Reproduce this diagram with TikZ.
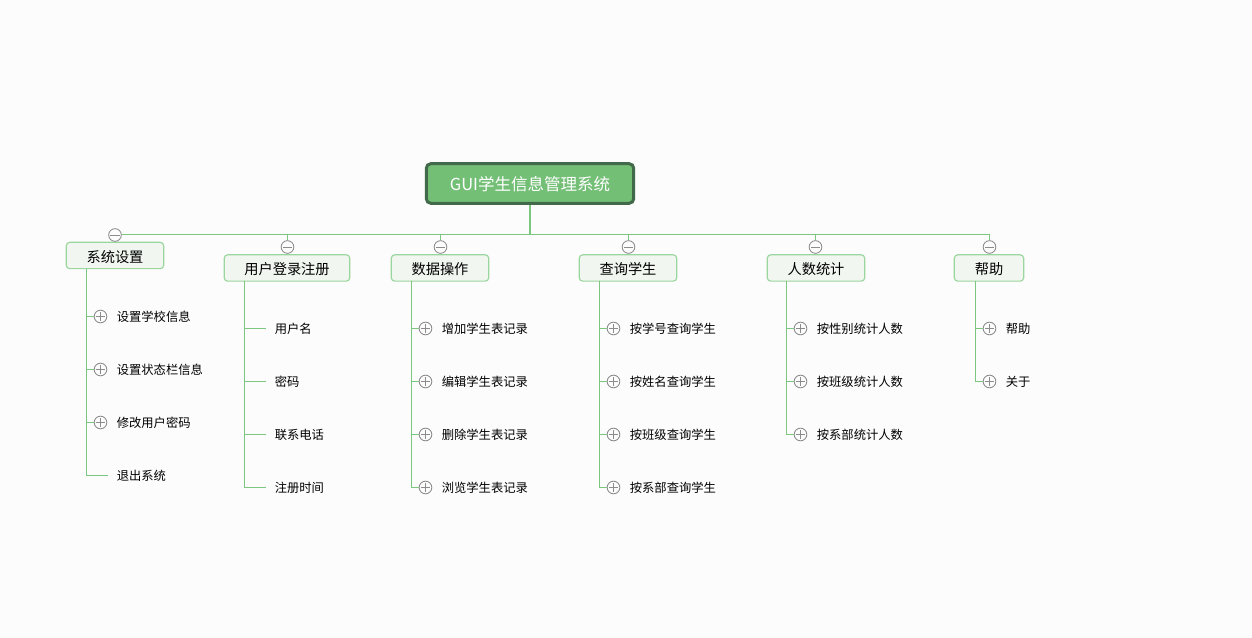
\documentclass[tikz,border=0pt]{standalone}
\usepackage{fontspec}
\setmainfont{Noto Sans CJK SC}
\definecolor{pagebg}{HTML}{FCFCFC}
\definecolor{linkgreen}{HTML}{7CC77F}
\definecolor{rootfill}{HTML}{73BF76}
\definecolor{rootedge}{HTML}{41694A}
\definecolor{branchfill}{HTML}{F1F7F0}
\definecolor{branchedge}{HTML}{9AD69D}
\definecolor{markgray}{HTML}{8C8C8C}
\tikzset{
  rootbox/.style={draw=rootedge, fill=rootfill, line width=1.7pt, rounded corners=2.5pt,
    text=white, minimum width=118pt, minimum height=22.5pt, inner sep=0pt, text height=8pt, text depth=0pt,
    font=\fontsize{9.4pt}{9.4pt}\selectfont},
  branchbox/.style={draw=branchedge, fill=branchfill, line width=0.65pt, rounded corners=2pt,
    minimum height=15pt, inner sep=0pt, text height=7.5pt, text depth=0pt, font=\fontsize{8.1pt}{8.1pt}\selectfont},
  leaftext/.style={anchor=west, inner sep=0pt, font=\fontsize{7pt}{7pt}\selectfont},
  marker/.style={circle, draw=markgray, fill=pagebg, line width=0.5pt, minimum size=7.2pt, inner sep=0pt},
  minusmark/.style={marker, path picture={
    \draw[markgray, line width=0.45pt] ([xshift=-2.6pt]path picture bounding box.center) -- ([xshift=2.6pt]path picture bounding box.center);}},
  plusmark/.style={marker, path picture={
    \draw[markgray, line width=0.45pt] ([xshift=-2.6pt]path picture bounding box.center) -- ([xshift=2.6pt]path picture bounding box.center);
    \draw[markgray, line width=0.45pt] ([yshift=-2.6pt]path picture bounding box.center) -- ([yshift=2.6pt]path picture bounding box.center);}},
  link/.style={draw=linkgreen, line width=0.6pt},
  stem/.style={draw=linkgreen, line width=0.75pt},
}
\begin{document}
\begin{tikzpicture}[x=0.02cm, y=-0.02cm]
  \fill[pagebg] (0, 0) rectangle (1252, 638);
  \useasboundingbox (0, 0) rectangle (1252, 638);

  \node[rootbox] (root) at (530, 183.5) {GUI学生信息管理系统};

  % branches
  \node[branchbox, minimum width=55.5pt] (sys) at (115, 255.5) {系统设置};
  \node[branchbox, minimum width=71.5pt] (usr) at (287, 268) {用户登录注册};
  \node[branchbox, minimum width=55.5pt] (dat) at (440, 268) {数据操作};
  \node[branchbox, minimum width=55.5pt] (qry) at (628, 268) {查询学生};
  \node[branchbox, minimum width=55.5pt] (cnt) at (816, 268) {人数统计};
  \node[branchbox, minimum width=39.5pt] (hlp) at (989, 268) {帮助};

  \node[minusmark] (msys) at (115, 235) {};
  \foreach \b/\x in {usr/287.5, dat/440.5, qry/628.5, cnt/815.5, hlp/989.5}
    \node[minusmark] (m\b) at (\x, 247) {};

  \coordinate (busend) at (989.5, 234.5);
  \draw[stem, line width=0.95pt] (root) -- (root |- busend);
  \draw[link] (msys.east |- busend) -- (busend);
  \foreach \b in {usr, dat, qry, cnt, hlp}
    \draw[link] (m\b) -- (m\b |- busend);

  % stems
  \coordinate (ssys) at (86.5, 269);
  \coordinate (susr) at (244.5, 281);
  \coordinate (sdat) at (411.5, 281);
  \coordinate (sqry) at (599.5, 281);
  \coordinate (scnt) at (786.5, 281);
  \coordinate (shlp) at (975.5, 281);

  % leaves with a marker
  \foreach \b/\n/\x/\y/\t in {
    sys/1/86.5/316.5/设置学校信息, sys/2/86.5/369.5/设置状态栏信息, sys/3/86.5/422.5/修改用户密码,
    dat/1/411.5/328.5/增加学生表记录, dat/2/411.5/381.5/编辑学生表记录,
    dat/3/411.5/434.5/删除学生表记录, dat/4/411.5/487.5/浏览学生表记录,
    qry/1/599.5/328.5/按学号查询学生, qry/2/599.5/381.5/按姓名查询学生,
    qry/3/599.5/434.5/按班级查询学生, qry/4/599.5/487.5/按系部查询学生,
    cnt/1/786.5/328.5/按性别统计人数, cnt/2/786.5/381.5/按班级统计人数,
    cnt/3/786.5/434.5/按系部统计人数,
    hlp/1/975.5/328.5/帮助, hlp/2/975.5/381.5/关于} {
    \node[plusmark] (p\b\n) at (\x+14, \y) {};
    \node[leaftext] (l\b\n) at (\x+30, \y) {\t};
    \draw[stem] (s\b) |- (p\b\n);
  }

  % leaves with a plain end
  \foreach \b/\n/\x/\y/\t in {
    sys/4/86.5/475.5/退出系统,
    usr/1/244.5/328.5/用户名, usr/2/244.5/381.5/密码,
    usr/3/244.5/434.5/联系电话, usr/4/244.5/487.5/注册时间} {
    \coordinate (e\b\n) at (\x+21, \y);
    \node[leaftext] (l\b\n) at (\x+30, \y) {\t};
    \draw[stem] (s\b) |- (e\b\n);
  }
\end{tikzpicture}
\end{document}
